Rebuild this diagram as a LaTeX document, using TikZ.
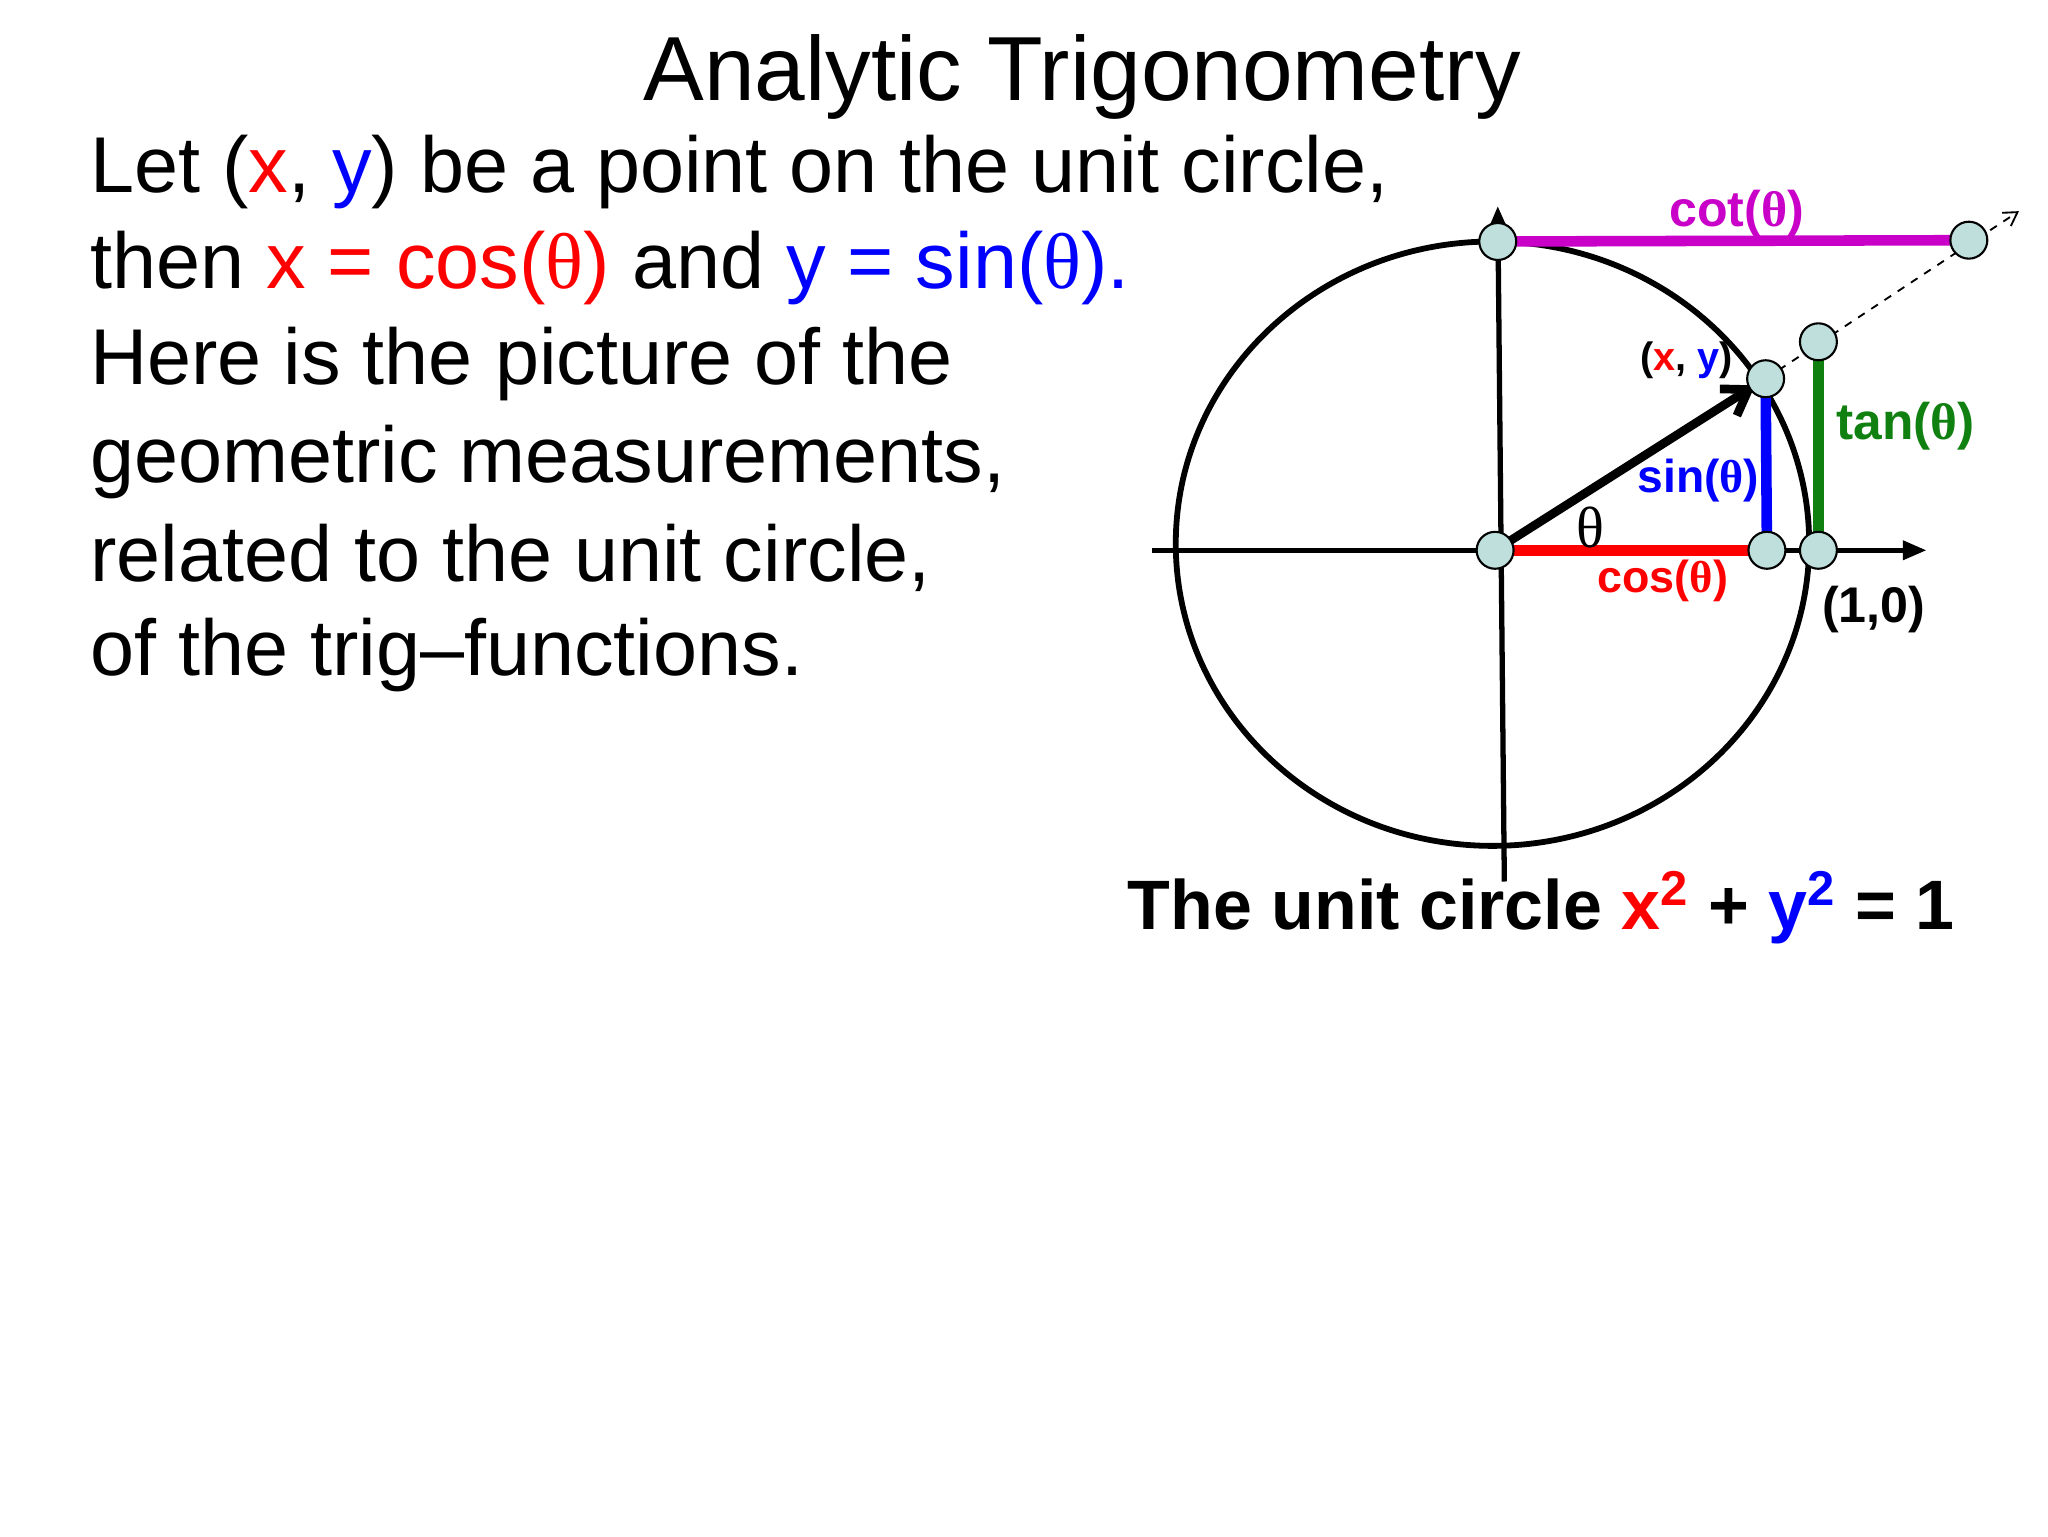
\documentclass[tikz,border=0pt]{standalone}
\usepackage{fontspec}
\setmainfont{Liberation Sans}
\newfontfamily\symf{Liberation Serif}
\usetikzlibrary{arrows.meta}
\definecolor{ptfill}{HTML}{BFDFDC}
\definecolor{mag}{HTML}{C800C8}
\definecolor{dgreen}{HTML}{108010}
\newcommand{\thet}{{\symf θ}}
\begin{document}
\begin{tikzpicture}[x=0.5pt,y=-0.5pt,
  pt/.style={circle,draw=black,fill=ptfill,line width=0.8pt,minimum size=14pt,inner sep=0pt},
  lbl/.style={font=\fontsize{19}{22}\selectfont\bfseries},
  body/.style={anchor=west,font=\fontsize{30}{36}\selectfont,inner sep=0pt}]
\useasboundingbox (0,0) rectangle (1552,1164);
\node[font=\fontsize{34.5}{40}\selectfont] (title) at (820,58) {Analytic Trigonometry};
\node[body] (l1) at (68,130) {Let (\textcolor{red}{x}, \textcolor{blue}{y}) be a point on the unit circle,};
\node[body] (l2) at (68,203) {then \textcolor{red}{x = cos(\thet)} and \textcolor{blue}{y = sin(\thet).}};
\node[body] (l3) at (68,276) {Here is the picture of the};
\node[body] (l4) at (68,350) {geometric measurements,};
\node[body] (l5) at (68,423) {related to the unit circle,};
\node[body] (l6) at (68,496) {of the trig–functions.};
% axes and circle
\draw[line width=2.2pt] (1131,412) ellipse [x radius=240, y radius=229];
\coordinate (xl) at (873,417); \coordinate (xr) at (1460,417);
\coordinate (yb) at (1140,668); \coordinate (yt) at (1135,156);
\draw[line width=2pt,-{Triangle[length=9pt,width=7pt]}] (xl) -- (xr);
\draw[line width=2pt,-{Triangle[length=9pt,width=7pt]}] (yb) -- (yt);
\coordinate (O) at (1133,417);
\coordinate (P) at (1338,287);
\coordinate (C) at (1339,417);
\coordinate (U) at (1378,417);
\coordinate (T) at (1378,259);
\coordinate (Y) at (1135,183);
\coordinate (K) at (1492,182);
\coordinate (D) at (1530,160);
\draw[mag,line width=4pt] (Y) -- (K);
\draw[red,line width=4pt] (O) -- (C);
\draw[blue,line width=4pt] (C) -- (P);
\draw[dgreen,line width=4pt] (U) -- (T);
\draw[dashed,line width=0.7pt,-{Straight Barb[length=5pt,width=6pt]}] (P) -- (D);
\draw[line width=3.3pt,-{Straight Barb[length=9pt,width=12pt]}] (O) -- (1330,292);
\foreach \n in {O,P,C,U,T,Y,K}{\node[pt] (p\n) at (\n) {};}
\node[lbl,text=mag] (lcot) at (1316,162) {cot(\thet)};
\node[lbl,font=\fontsize{15}{17}\selectfont\bfseries] (lxy) at (1278,273) {(\textcolor{red}{x}, \textcolor{blue}{y})};
\node[lbl,text=dgreen,font=\fontsize{19.5}{22}\selectfont\bfseries] (ltan) at (1444,323) {tan(\thet)};
\node[lbl,text=blue,font=\fontsize{17.5}{20}\selectfont\bfseries] (lsin) at (1287,364) {sin(\thet)};
\node[font=\fontsize{22}{24}\selectfont] (lth) at (1205,400) {\thet};
\node[lbl,text=red,font=\fontsize{17}{20}\selectfont\bfseries] (lcos) at (1260,440) {cos(\thet)};
\node[lbl] (l10) at (1420,462) {(1,0)};
\node[font=\fontsize{26.5}{30}\selectfont\bfseries] (cap) at (1168,688) {The unit circle \textcolor{red}{x\textsuperscript{2}} + \textcolor{blue}{y\textsuperscript{2}} = 1};
\end{tikzpicture}
\end{document}
